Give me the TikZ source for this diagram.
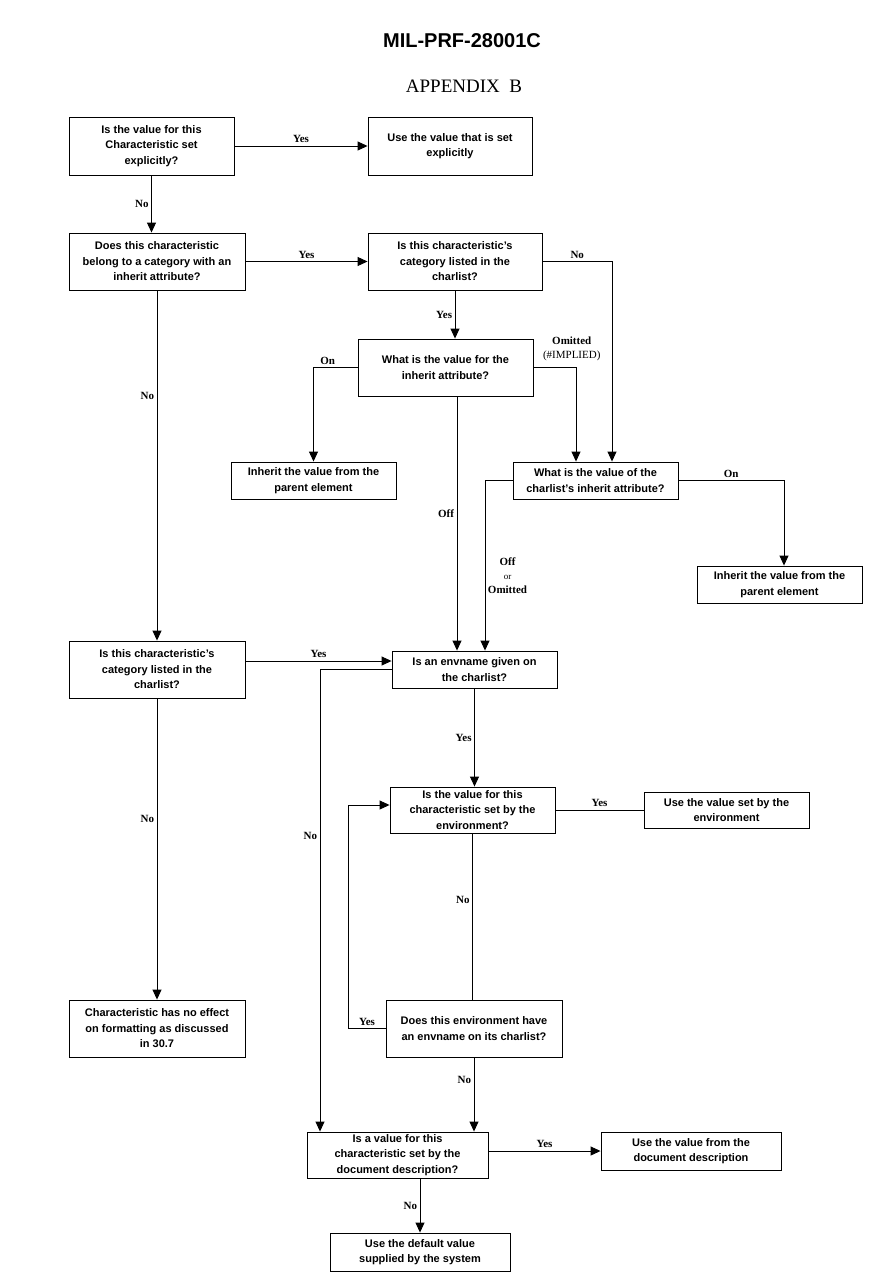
\documentclass[tikz,border=0pt]{standalone}
\usepackage{fontspec}
\setmainfont{Liberation Serif}
\setsansfont{Liberation Sans}
\usetikzlibrary{positioning, arrows.meta, calc}

\begin{document}
\begin{tikzpicture}[
        x=1pt, y=-1pt,
        box/.style={draw, line width=0.9pt, align=center, inner sep=2pt, font=\sffamily\bfseries\fontsize{11}{15.5}\selectfont},
        arr/.style={-{Triangle[length=10pt, width=9pt]}, line width=0.9pt},
        ln/.style={line width=0.9pt},
        lbl/.style={font=\rmfamily\bfseries\fontsize{11}{14}\selectfont, inner sep=2.5pt},
    ]
    \useasboundingbox (0,0) rectangle (884,1288);

    % Header
    \node[font=\sffamily\bfseries\fontsize{20}{24}\selectfont] (title) at (462,41) {MIL-PRF-28001C};
    \node[font=\rmfamily\fontsize{19}{23}\selectfont] (appx) at (464,86) {APPENDIX\ \ B};

    % Boxes
    \node[box, minimum width=165pt, minimum height=58pt] (expl) at (151.5,146) {Is the value for this\\Characteristic set\\explicitly?};
    \node[box, minimum width=164pt, minimum height=58pt] (useexpl) at (450,146) {Use the value that is set\\explicitly};
    \node[box, minimum width=176pt, minimum height=57pt] (belong) at (157,261.5) {Does this characteristic\\belong to a category with an\\inherit attribute?};
    \node[box, minimum width=174pt, minimum height=57pt] (catlist) at (455,261.5) {Is this characteristic's\\category listed in the\\charlist?};
    \node[box, minimum width=175pt, minimum height=57pt] (inhval) at (445.5,367.5) {What is the value for the\\inherit attribute?};
    \node[box, minimum width=165pt, minimum height=37pt] (parent1) at (313.5,480.5) {Inherit the value from the\\parent element};
    \node[box, minimum width=165pt, minimum height=37pt] (clinh) at (595.5,480.5) {What is the value of the\\charlist's inherit attribute?};
    \node[box, minimum width=165pt, minimum height=37pt] (parent2) at (779.5,584.5) {Inherit the value from the\\parent element};
    \node[box, minimum width=176pt, minimum height=57pt] (catlist2) at (157,669.5) {Is this characteristic's\\category listed in the\\charlist?};
    \node[box, minimum width=165pt, minimum height=37pt] (envgiven) at (474.5,669.5) {Is an envname given on\\the charlist?};
    \node[box, minimum width=165pt, minimum height=46pt] (envset) at (472.5,810) {Is the value for this\\characteristic set by the\\environment?};
    \node[box, minimum width=165pt, minimum height=36pt] (useenv) at (726.5,810) {Use the value set by the\\environment};
    \node[box, minimum width=176pt, minimum height=57pt] (noeffect) at (157,1028.5) {Characteristic has no effect\\on formatting as discussed\\in 30.7};
    \node[box, minimum width=176pt, minimum height=57pt] (envhave) at (474,1028.5) {Does this environment have\\an envname on its charlist?};
    \node[box, minimum width=181pt, minimum height=46pt] (docset) at (397.5,1155) {Is a value for this\\characteristic set by the\\document description?};
    \node[box, minimum width=180pt, minimum height=38pt] (usedoc) at (691,1151) {Use the value from the\\document description};
    \node[box, minimum width=180pt, minimum height=38pt] (default) at (420,1252) {Use the default value\\supplied by the system};

    % Connectors
    \draw[arr] (expl) -- node[lbl, above] {Yes} (useexpl);
    \draw[arr] (expl.south) -- node[lbl, left] {No} (expl.south |- belong.north);
    \draw[arr] (belong) -- node[lbl, above] {Yes} (catlist);
    \draw[arr] (catlist.east) -| node[lbl, pos=0.25, above] {No} ([xshift=16.5pt]clinh.north);
    \draw[arr] (catlist.south) -- node[lbl, left] {Yes} (catlist.south |- inhval.north);
    \draw[arr] (inhval.west) -| node[lbl, pos=0.34, above] {On} (parent1.north);
    \draw[arr] (inhval.east) -| node[lbl, pos=0.45, above, yshift=4pt, align=center] {Omitted\\{\mdseries(\#IMPLIED)}} ([xshift=-19.5pt]clinh.north);
    \draw[arr] ([xshift=11.5pt]inhval.south) -- node[lbl, pos=0.46, left] {Off} ([xshift=11.5pt]inhval.south |- envgiven.north);
    \draw[arr] (clinh.west) -| node[lbl, pos=0.78, right, align=center] {Off\\{\mdseries\fontsize{9}{15.5}\selectfont or}\\Omitted} ([xshift=10.5pt]envgiven.north);
    \draw[arr] (clinh.east) -| node[lbl, pos=0.25, above] {On} ([xshift=4.5pt]parent2.north);
    \draw[arr] (belong.south) -- node[lbl, pos=0.3, left] {No} (catlist2.north);
    \draw[arr] ([yshift=8.5pt]catlist2.east) -- node[lbl, above] {Yes} ([yshift=8.5pt]envgiven.west);
    \draw[arr] (envgiven.west) -| node[lbl, pos=0.68, left] {No} ([xshift=-77.5pt]docset.north);
    \draw[arr] (envgiven.south) -- node[lbl, left] {Yes} (envgiven.south |- envset.north);
    \draw[ln] (envset) -- node[lbl, above] {Yes} (useenv);
    \draw[ln] (envset.south) -- node[lbl, pos=0.4, left] {No} (envset.south |- envhave.north);
    \draw[arr] (envhave.west) -- node[lbl, above] {Yes} ++(-37,0) |- ([yshift=5pt]envset.west);
    \draw[arr] (envhave.south) -- node[lbl, pos=0.3, left] {No} (envhave.south |- docset.north);
    \draw[arr] (catlist2.south) -- node[lbl, pos=0.4, left] {No} (noeffect.north);
    \draw[arr] (docset.east |- usedoc.west) -- node[lbl, above] {Yes} (usedoc.west);
    \draw[arr] (default.north |- docset.south) -- node[lbl, left] {No} (default.north);
\end{tikzpicture}
\end{document}
